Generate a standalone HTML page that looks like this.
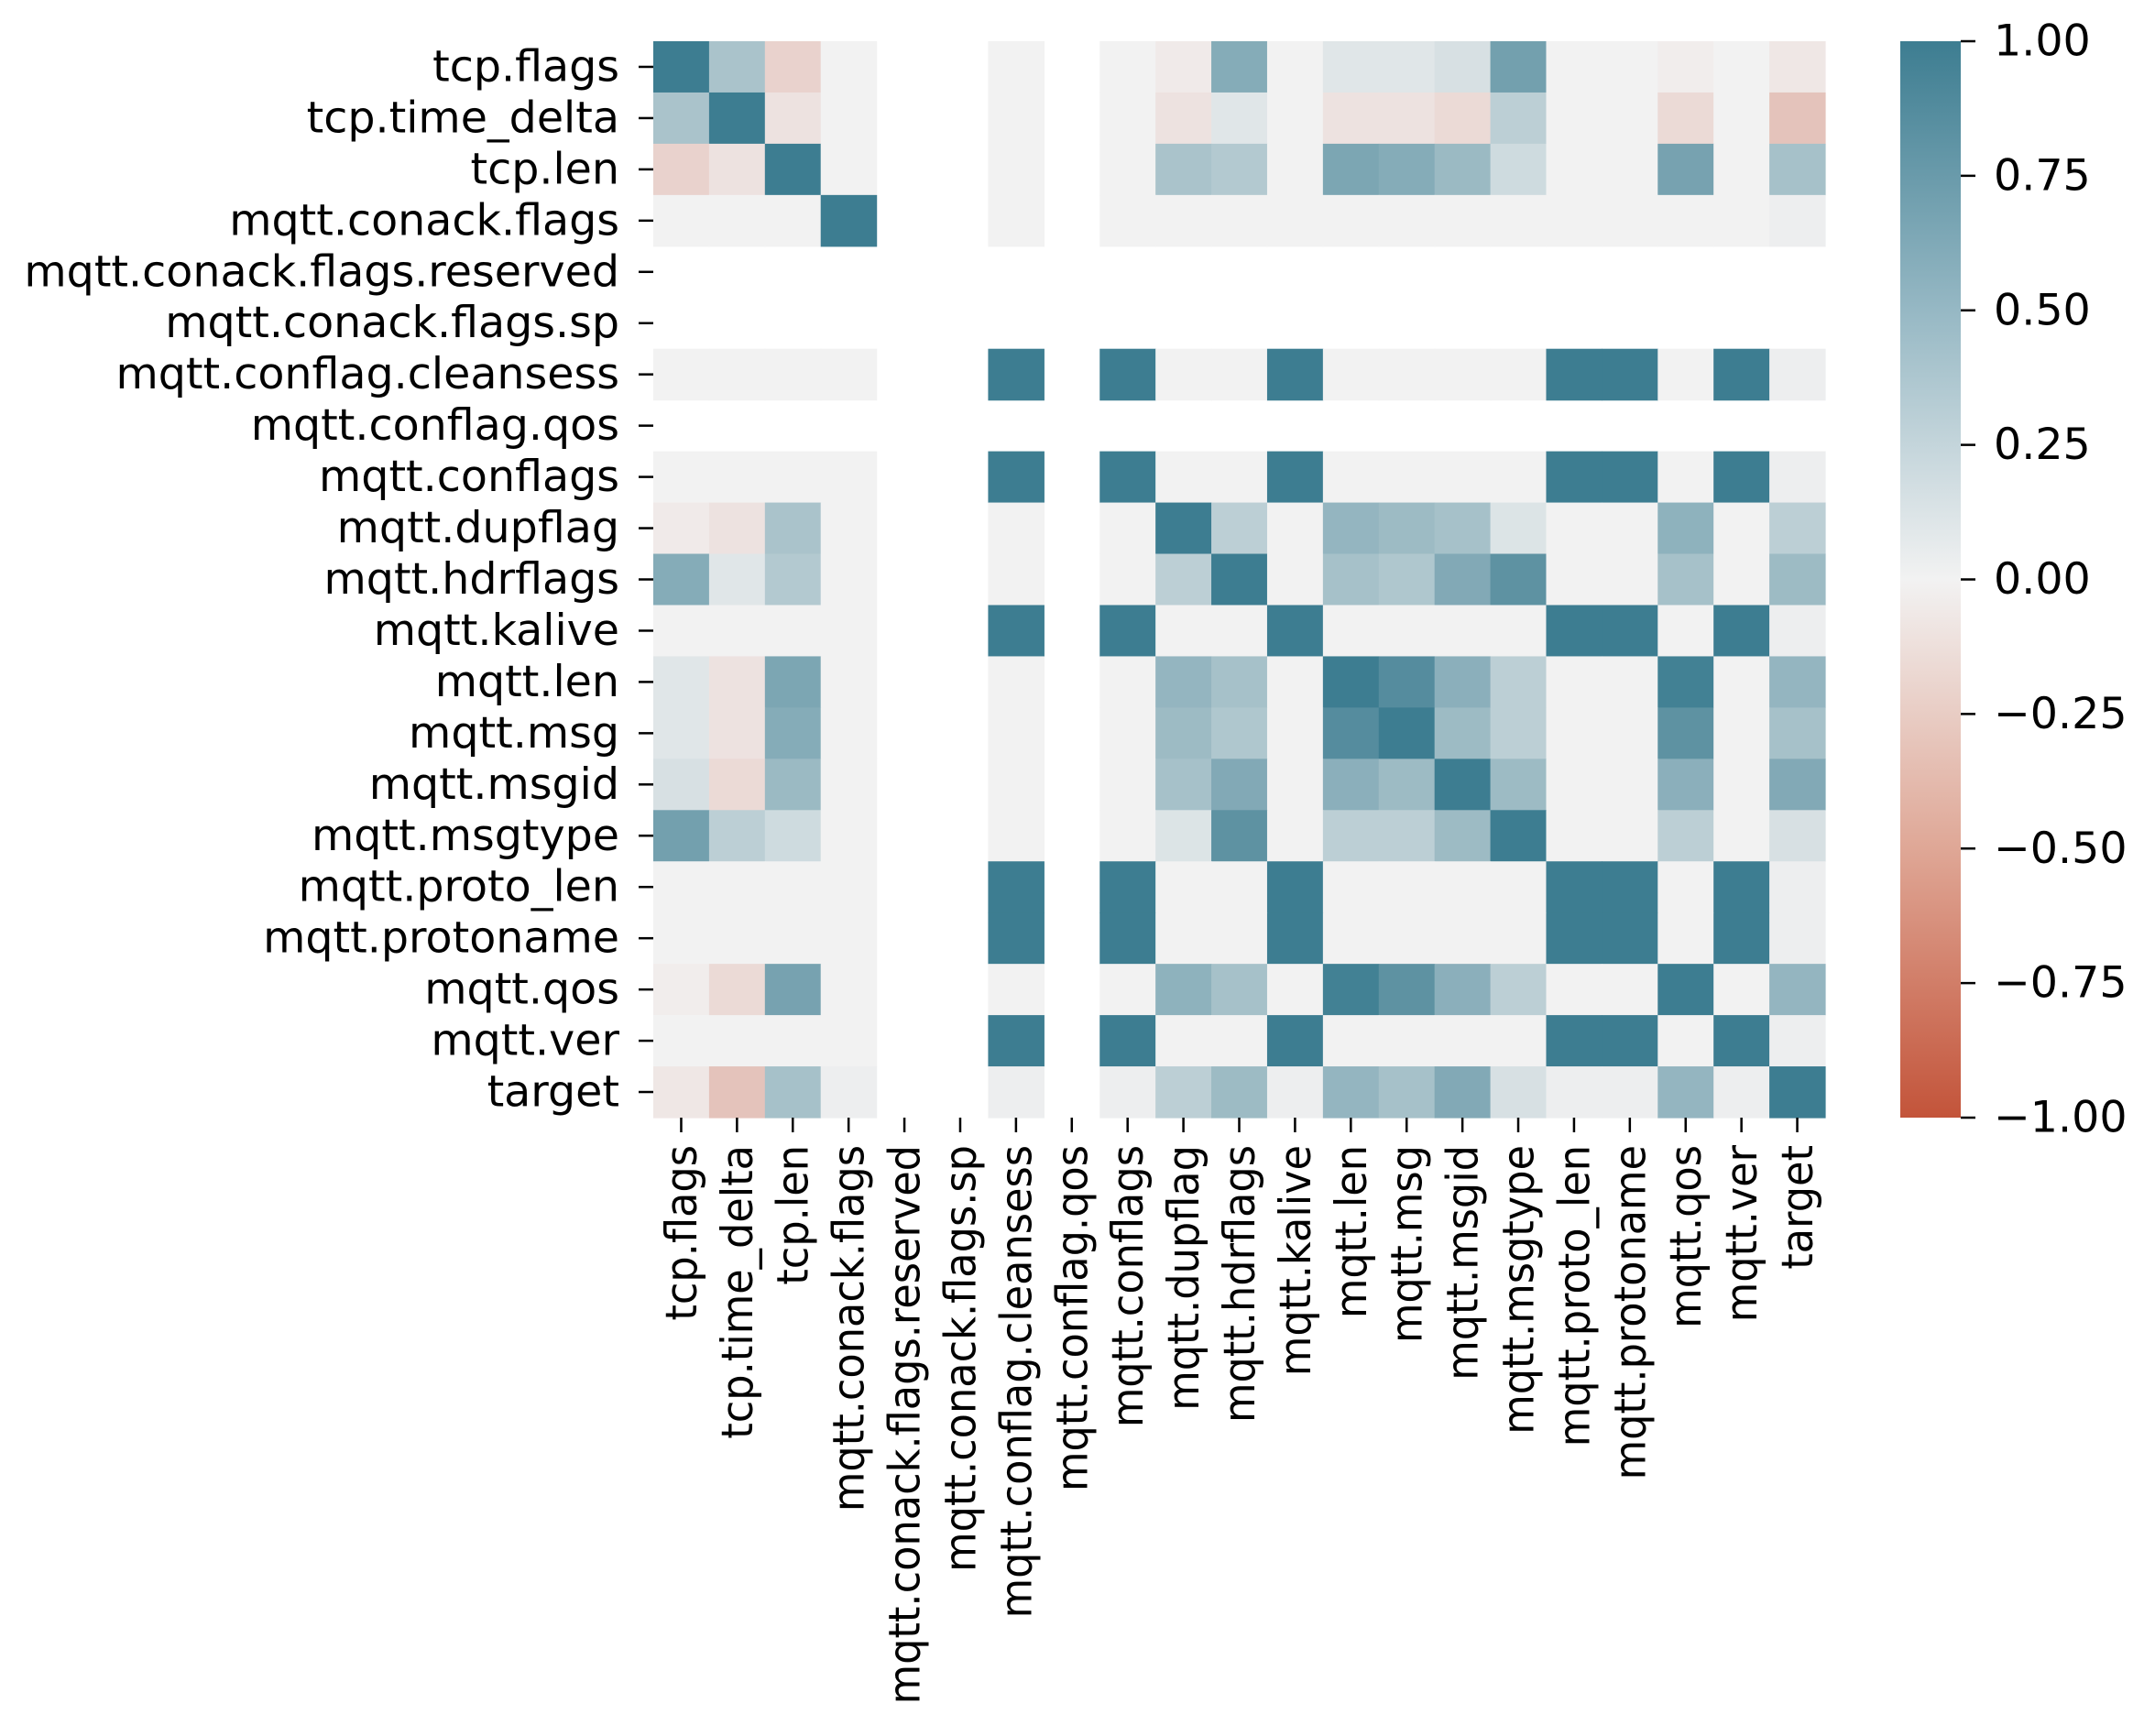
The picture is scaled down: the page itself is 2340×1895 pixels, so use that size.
<!DOCTYPE html>
<html><head><meta charset="utf-8"><style>
html,body{margin:0;padding:0;background:#fff;}
svg{display:block;}
text{font-family:"DejaVu Sans","Liberation Sans",sans-serif;font-size:47.5px;fill:#000;}
</style></head><body>
<svg id="s" width="2340" height="1895" xmlns="http://www.w3.org/2000/svg">
<defs><linearGradient id="cb" x1="0" y1="0" x2="0" y2="1">
<stop offset="0" stop-color="#3d7d91"/><stop offset="0.25" stop-color="#96b8c4"/>
<stop offset="0.5" stop-color="#f2f2f2"/><stop offset="0.75" stop-color="#dfa796"/>
<stop offset="1" stop-color="#c3543a"/></linearGradient></defs>
<rect x="2074" y="45" width="66" height="1175" fill="url(#cb)"/>
<g id="g"></g>
</svg>
<script>
var names=["tcp.flags","tcp.time_delta","tcp.len","mqtt.conack.flags","mqtt.conack.flags.reserved","mqtt.conack.flags.sp","mqtt.conflag.cleansess","mqtt.conflag.qos","mqtt.conflags","mqtt.dupflag","mqtt.hdrflags","mqtt.kalive","mqtt.len","mqtt.msg","mqtt.msgid","mqtt.msgtype","mqtt.proto_len","mqtt.protoname","mqtt.qos","mqtt.ver","target"];
var N=21,M=[];for(var i=0;i<N;i++){M.push([]);for(var j=0;j<N;j++)M[i].push(i==j?1:0);}
function s(i,j,v){M[i][j]=v;M[j][i]=v;}
var G=[6,8,11,16,17,19];G.forEach(a=>G.forEach(b=>M[a][b]=1));
var r0=[1,.4,-.2,0,0,0,0,0,0,-.05,.6,0,.1,.1,.15,.7,0,0,-.03,0,-.07];
var r1=[.4,1,-.1,0,0,0,0,0,0,-.1,.1,0,-.1,-.1,-.15,.3,0,0,-.15,0,-.3];
var r2=[-.2,-.1,1,0,0,0,0,0,0,.4,.35,0,.65,.6,.48,.2,0,0,.68,0,.42];
[[0,r0],[1,r1],[2,r2]].forEach(p=>p[1].forEach((v,j)=>{if(j!=p[0])s(p[0],j,v)}));
s(9,10,.3);s(9,12,.52);s(9,13,.47);s(9,14,.42);s(9,15,.12);s(9,18,.55);s(9,20,.3);
s(10,12,.42);s(10,13,.37);s(10,14,.62);s(10,15,.82);s(10,18,.42);s(10,20,.47);
s(12,13,.87);s(12,14,.57);s(12,15,.3);s(12,18,.97);s(12,20,.52);
s(13,14,.47);s(13,15,.3);s(13,18,.82);s(13,20,.42);
s(14,15,.47);s(14,18,.57);s(14,20,.62);s(15,18,.3);s(15,20,.15);s(18,20,.52);
[3,6,8,11,16,17,19].forEach(k=>s(k,20,.03));
var nan=[4,5,7];
function col(v){var c0=[242,242,242],cp=[61,125,145],cn=[195,84,58];var e=v>=0?cp:cn,t=Math.abs(v);
return "rgb("+c0.map((c,k)=>Math.round(c+(e[k]-c)*t)).join(",")+")";}
var x0=713,y0=45,cw=1279/21,ch=1175/21,h="";
for(var i=0;i<N;i++)for(var j=0;j<N;j++){if(nan.includes(i)||nan.includes(j))continue;
h+='<rect x="'+(x0+j*cw).toFixed(2)+'" y="'+(y0+i*ch).toFixed(2)+'" width="'+(cw+0.6).toFixed(2)+'" height="'+(ch+0.6).toFixed(2)+'" fill="'+col(M[i][j])+'"/>';}
for(var i=0;i<N;i++){var y=y0+(i+.5)*ch;
h+='<line x1="697" x2="713" y1="'+y+'" y2="'+y+'" stroke="#000" stroke-width="2.5"/>';
h+='<text x="676" y="'+y+'" text-anchor="end" dominant-baseline="central">'+names[i]+'</text>';
var x=x0+(i+.5)*cw;
h+='<line x1="'+x+'" x2="'+x+'" y1="1220" y2="1236" stroke="#000" stroke-width="2.5"/>';
h+='<text transform="translate('+x+',1250) rotate(-90) scale(0.94,1)" text-anchor="end" dominant-baseline="central">'+names[i]+'</text>';}
var labs=["1.00","0.75","0.50","0.25","0.00","\u22120.25","\u22120.50","\u22120.75","\u22121.00"];
for(var k=0;k<9;k++){var y=45+k*1175/8;
h+='<line x1="2140" x2="2156" y1="'+y+'" y2="'+y+'" stroke="#000" stroke-width="2.5"/>';
h+='<text x="2176" y="'+y+'" dominant-baseline="central">'+labs[k]+'</text>';}
document.getElementById("g").innerHTML=h;
</script>
</body></html>
